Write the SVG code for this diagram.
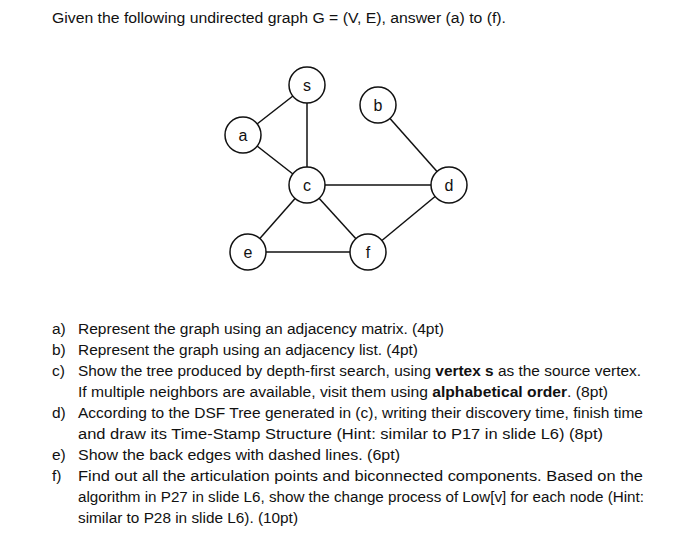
<svg xmlns="http://www.w3.org/2000/svg" width="700" height="560" viewBox="0 0 700 560">
<style>
text{font-family:"Liberation Sans",Arial,sans-serif;font-size:15.5px;fill:#111}
.n circle{fill:#fff;stroke:#111;stroke-width:1.5}
.n text{font-size:16px;text-anchor:middle}
.e line{stroke:#111;stroke-width:1.5}
.b{font-weight:bold}
</style>
<rect width="700" height="560" fill="#fff"/>
<text x="52" y="23" textLength="454" lengthAdjust="spacingAndGlyphs">Given the following undirected graph G = (V, E), answer (a) to (f).</text>
<g class="e" id="edges">
<line x1="307" y1="85" x2="243" y2="135"/>
<line x1="307" y1="85" x2="307" y2="185"/>
<line x1="243" y1="135" x2="307" y2="185"/>
<line x1="378" y1="105" x2="449" y2="185"/>
<line x1="307" y1="185" x2="449" y2="185"/>
<line x1="307" y1="185" x2="248" y2="252"/>
<line x1="307" y1="185" x2="368" y2="252"/>
<line x1="248" y1="252" x2="368" y2="252"/>
<line x1="449" y1="185" x2="368" y2="252"/>
</g>
<g class="n" id="s"><circle cx="307" cy="85" r="18"/><text x="307" y="91">s</text></g>
<g class="n" id="b"><circle cx="378" cy="105" r="18"/><text x="378" y="111">b</text></g>
<g class="n" id="a"><circle cx="243" cy="135" r="18"/><text x="243" y="141">a</text></g>
<g class="n" id="c"><circle cx="307" cy="185" r="18"/><text x="307" y="191">c</text></g>
<g class="n" id="d"><circle cx="449" cy="185" r="18"/><text x="449" y="191">d</text></g>
<g class="n" id="e"><circle cx="248" cy="252" r="18"/><text x="248" y="258">e</text></g>
<g class="n" id="f"><circle cx="368" cy="252" r="18"/><text x="368" y="258">f</text></g>
<g id="list">
<text x="52" y="334">a)</text><text x="78" y="334" textLength="366" lengthAdjust="spacingAndGlyphs">Represent the graph using an adjacency matrix. (4pt)</text>
<text x="52" y="355">b)</text><text x="78" y="355" textLength="340" lengthAdjust="spacingAndGlyphs">Represent the graph using an adjacency list. (4pt)</text>
<text x="52" y="376">c)</text><text x="78" y="376" textLength="563" lengthAdjust="spacingAndGlyphs">Show the tree produced by depth-first search, using <tspan class="b">vertex s</tspan> as the source vertex.</text>
<text x="78" y="397" textLength="530" lengthAdjust="spacingAndGlyphs">If multiple neighbors are available, visit them using <tspan class="b">alphabetical order</tspan>. (8pt)</text>
<text x="52" y="418">d)</text><text x="78" y="418" textLength="565" lengthAdjust="spacingAndGlyphs">According to the DSF Tree generated in (c), writing their discovery time, finish time</text>
<text x="78" y="439" textLength="525" lengthAdjust="spacingAndGlyphs">and draw its Time-Stamp Structure (Hint: similar to P17 in slide L6) (8pt)</text>
<text x="52" y="460">e)</text><text x="78" y="460" textLength="322" lengthAdjust="spacingAndGlyphs">Show the back edges with dashed lines. (6pt)</text>
<text x="52" y="481">f)</text><text x="78" y="481" textLength="565" lengthAdjust="spacingAndGlyphs">Find out all the articulation points and biconnected components. Based on the</text>
<text x="78" y="502" textLength="566" lengthAdjust="spacingAndGlyphs">algorithm in P27 in slide L6, show the change process of Low[v] for each node (Hint:</text>
<text x="78" y="523" textLength="220" lengthAdjust="spacingAndGlyphs">similar to P28 in slide L6). (10pt)</text>
</g>
</svg>
